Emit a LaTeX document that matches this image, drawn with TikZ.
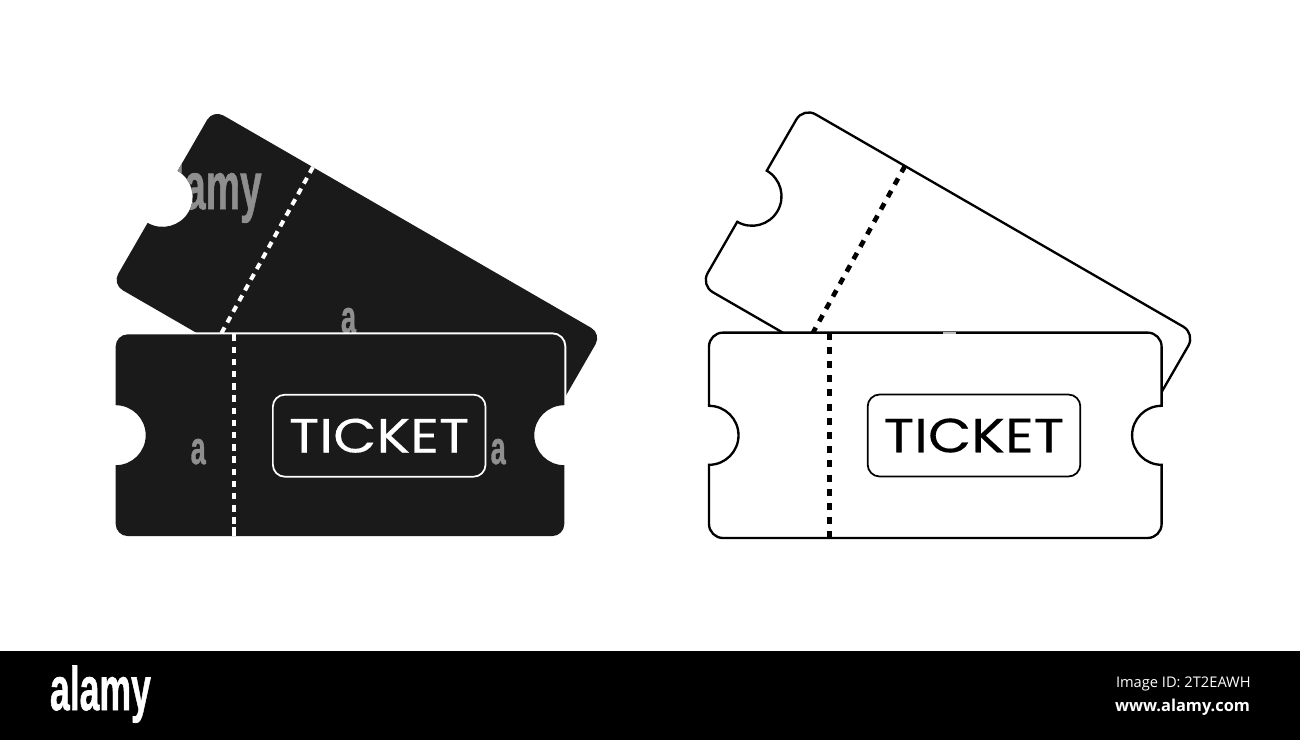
\documentclass[tikz,border=0pt]{standalone}
\usepackage{fontspec}
\setmainfont{Poppins}
\newfontfamily\logofont[FakeBold=1.2]{Liberation Sans Bold}
\newfontfamily\infofont{Open Sans}
\newfontfamily\ticketfont[FakeBold=0.25]{Poppins}
\definecolor{inkblack}{HTML}{1A1A1A}
\definecolor{wmgray}{HTML}{8F8F8F}
% half width, half height, notch radius, corner radius
\newcommand{\ticketpath}[4]{
  (-#1+#4,#2) -- (#1-#4,#2) arc[start angle=90,end angle=0,radius=#4]
  -- (#1,#3) arc[start angle=90,end angle=270,radius=#3]
  -- (#1,-#2+#4) arc[start angle=0,end angle=-90,radius=#4]
  -- (-#1+#4,-#2) arc[start angle=270,end angle=180,radius=#4]
  -- (-#1,-#3) arc[start angle=-90,end angle=90,radius=#3]
  -- (-#1,#2-#4) arc[start angle=180,end angle=90,radius=#4] -- cycle}
\newcommand{\wmtext}[1]{\logofont\scalebox{.58}[1]{#1}}
\newcommand{\ticketword}{\scalebox{1.17}[1]{\ticketfont\fontsize{36}{36}\selectfont TICKET}}
\tikzset{
  solidfill/.style={fill=inkblack,draw=none},
  outlinefill/.style={fill=white,draw=black,line width=1.75pt},
  whitedash/.style={draw=white,line width=3pt,dash pattern=on 4.9pt off 4.25pt},
  blackdash/.style={draw=black,line width=3.5pt,dash pattern=on 5.3pt off 5.35pt},
  wm/.style={text=wmgray,inner sep=0pt,outer sep=0pt,anchor=base west,font=\fontsize{35}{35}\selectfont},
  ticketlabel/.style={draw,rounded corners=9pt,line width=1.3pt,minimum width=159.5pt,minimum height=61.5pt,inner sep=0pt},
}
\begin{document}
\begin{tikzpicture}[x=0.75pt,y=0.75pt]
\useasboundingbox (0,-740) rectangle (1300,0);
\fill[white] (0,-740) rectangle (1300,0);
% ---- solid pair: back ticket
\begin{scope}[shift={(356.9,-309)},rotate=-30]
  \fill[solidfill] \ticketpath{224.3}{100.85}{30}{12};
  \draw[whitedash] (-109,100.85) -- (-105,-100.85);
\end{scope}
\begin{scope}
  \clip[shift={(356.9,-309)},rotate=-30] \ticketpath{224.3}{100.85}{30}{12};
  \node[wm,font=\fontsize{50}{50}\selectfont] (wmback) at (152,-209) {\wmtext{alamy}};
  \node[wm] (wmtop) at (341,-333) {\wmtext{a}};
\end{scope}
% ---- solid pair: front ticket
\begin{scope}[shift={(340,-435.2)}]
  \draw[white,line width=3pt] \ticketpath{224.3}{100.85}{30}{12};
  \fill[solidfill] \ticketpath{224.3}{100.85}{30}{12};
  \draw[whitedash] (-106,100.85) -- (-106,-100.85);
\end{scope}
\draw[white,line width=3pt] (234,-334.35) -- (234,-341);
\draw[white,line width=3pt] (234,-527) -- (234,-536);
\node[wm] (wmleft) at (190.7,-464) {\wmtext{a}};
\node[wm] (wmright) at (490.7,-464) {\wmtext{a}};
\node[ticketlabel,draw=white,text=white] (labelsolid) at (379.2,-435.7) {\ticketword};
% ---- outline pair: back ticket
\begin{scope}[shift={(948,-309.4)},rotate=-30]
  \draw[outlinefill] \ticketpath{226.3}{102.7}{29.5}{14};
  \draw[blackdash] (-109,102.7) -- (-105,-102.7);
\end{scope}
% ---- outline pair: front ticket
\begin{scope}[shift={(935.3,-435.3)}]
  \draw[outlinefill] \ticketpath{226.3}{102.7}{29.5}{14};
  \draw[blackdash] (-105.6,102.7) -- (-105.6,-102.7);
\end{scope}
\draw[wmgray!60,line width=1.5pt] (943,-332.7) -- (956,-332.7);
\node[ticketlabel,draw=black,text=black] (labeloutline) at (974,-435.5) {\ticketword};
% ---- footer bar
\fill[black] (0,-740) rectangle (1300,-651);
\node[inner sep=0pt,outer sep=0pt,anchor=base west,text=white,font=\fontsize{46}{46}\selectfont] (logo) at (50,-710) {\wmtext{alamy}};
\node[inner sep=0pt,outer sep=0pt,anchor=base west,text=white,font=\fontsize{11}{11}\selectfont] (imgid) at (1116,-687.3) {\infofont Image ID: 2T2EAWH};
\node[inner sep=0pt,outer sep=0pt,anchor=base west,text=white,font=\fontsize{12.3}{12.3}\selectfont] (site) at (1115,-711) {\infofont\bfseries www.alamy.com};
\end{tikzpicture}
\end{document}
